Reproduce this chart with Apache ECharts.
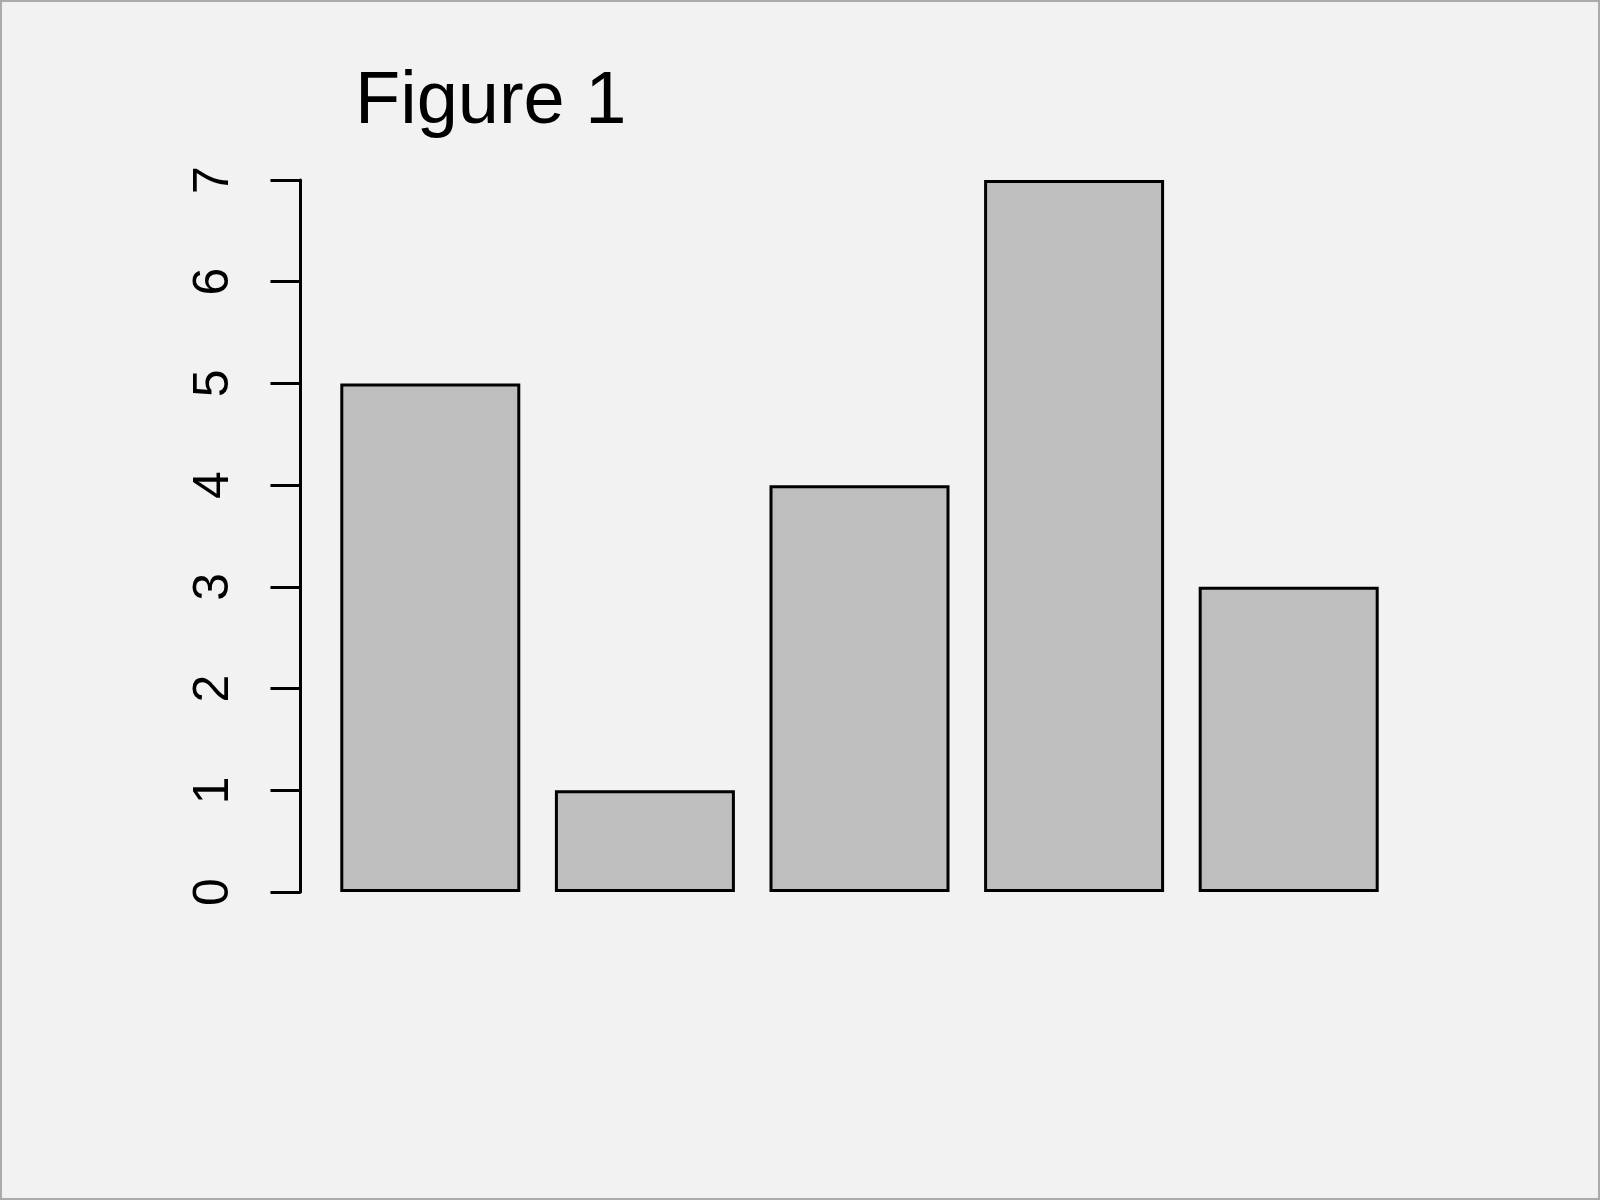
<!DOCTYPE html>
<html>
<head>
<meta charset="utf-8">
<script src="https://cdn.jsdelivr.net/npm/echarts@6/dist/echarts.min.js"></script>
<style>
  html, body { margin: 0; padding: 0; background: #f2f2f2; }
  #chart { position: absolute; left: 0; top: 0; width: 1600px; height: 1200px; }
  #frame { position: absolute; left: 0; top: 0; width: 1600px; height: 1200px; box-sizing: border-box; border: 2px solid #ababab; pointer-events: none; }
</style>
</head>
<body>
<div id="chart"></div>
<div id="frame"></div>
<script>
const categories = ['A', 'B', 'C', 'D', 'E'];
const values = [5, 1, 4, 7, 3];
const yTicks = [0, 1, 2, 3, 4, 5, 6, 7];
const titleText = 'Figure 1';

const chart = echarts.init(document.getElementById('chart'), null, { renderer: 'canvas' });
const FONT = '"Liberation Sans", Arial, sans-serif';
chart.setOption({
  backgroundColor: '#f2f2f2',
  animation: false,
  title: {
    text: titleText,
    left: 350,
    top: 61,
    textStyle: { fontFamily: FONT, fontSize: 74, fontWeight: 'normal', color: '#000' }
  },
  grid: { left: 323, right: 204, top: 180, bottom: 308, containLabel: false },
  xAxis: {
    type: 'category',
    data: categories,
    boundaryGap: true,
    axisLine: { show: false },
    axisTick: { show: false },
    axisLabel: { show: false },
    splitLine: { show: false }
  },
  yAxis: {
    type: 'value',
    min: yTicks[0],
    max: yTicks[yTicks.length - 1],
    interval: 1,
    offset: 22.5,
    axisLine: { show: true, lineStyle: { color: '#000', width: 3 } },
    axisTick: { show: true, length: 30, lineStyle: { color: '#000', width: 3 } },
    axisLabel: { rotate: 90, margin: 61, fontFamily: FONT, fontSize: 50, color: '#000' },
    splitLine: { show: false }
  },
  series: [{
    type: 'bar',
    data: values,
    barWidth: 180,
    itemStyle: { color: '#bebebe', borderColor: '#000', borderWidth: 3 }
  }]
});
</script>
</body>
</html>
